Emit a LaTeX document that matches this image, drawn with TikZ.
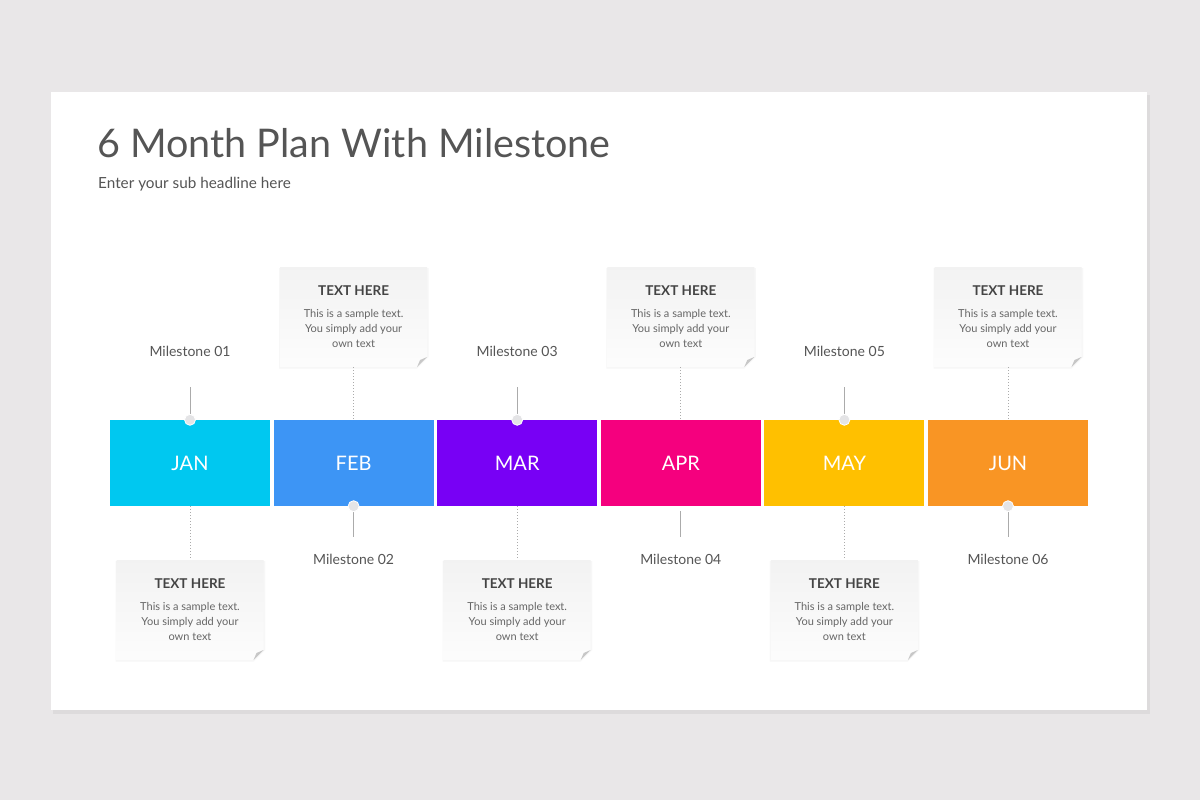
\documentclass[tikz,border=0pt]{standalone}
\usepackage{fontspec}
\setmainfont{Lato}
\usetikzlibrary{calc}
\definecolor{bg}{HTML}{E9E7E8}
\definecolor{ink}{HTML}{555555}
\definecolor{inkdark}{HTML}{444444}
\definecolor{inklight}{HTML}{666666}
\definecolor{cJan}{HTML}{00C8F0}
\definecolor{cFeb}{HTML}{3D95F5}
\definecolor{cMar}{HTML}{7800F5}
\definecolor{cApr}{HTML}{F5007E}
\definecolor{cMay}{HTML}{FFC000}
\definecolor{cJun}{HTML}{F99524}
\definecolor{dotc}{HTML}{E4E4E6}
\definecolor{linec}{HTML}{ABABAB}
\definecolor{shadowc}{HTML}{DDDBDC}
\begin{document}
\begin{tikzpicture}[x=1pt,y=-1pt,
  monthbox/.style={minimum width=160pt,minimum height=86pt,inner sep=0pt,text=white,font=\fontsize{20}{24}\selectfont},
  notebox/.style={minimum width=147pt,minimum height=100pt,inner sep=0pt},
  notetitle/.style={font=\fontsize{13.5}{16}\selectfont\bfseries,text=inkdark},
  notebody/.style={align=center,font=\fontsize{11}{15}\selectfont,text=inklight},
  mslabel/.style={font=\fontsize{14}{16}\selectfont,text=ink},
  msdot/.style={circle,fill=dotc,draw=white,line width=0.8pt,minimum size=11pt,inner sep=0pt},
  msline/.style={draw=linec,line width=1pt},
  dotline/.style={draw=linec,line width=1pt,dotted},
]
\useasboundingbox (0,0) rectangle (1200,800);
\fill[bg] (0,0) rectangle (1200,800);
% card shadow
\fill[shadowc] (53,95) rectangle (1150,714);
\fill[white] (51,92) rectangle (1147,710);
% title
\node[anchor=base west,inner sep=0pt,text=ink,font=\fontsize{39.5}{46}\selectfont] (title) at (97,157) {6 Month Plan With Milestone};
\node[anchor=base west,inner sep=0pt,text=ink,font=\fontsize{15.3}{18}\selectfont] (subtitle) at (98,188) {Enter your sub headline here};
% month boxes
\foreach \i/\m/\c in {0/JAN/cJan,1/FEB/cFeb,2/MAR/cMar,3/APR/cApr,4/MAY/cMay,5/JUN/cJun}{
  \node[monthbox,fill=\c] (m\i) at ({190+163.6*\i},463) {\m};
}
% notes: top over FEB, APR, JUN ; bottom under JAN, MAR, MAY
\foreach \i/\cy in {0/610,1/317,2/610,3/317,4/610,5/317}{
  \pgfmathsetmacro{\cx}{190+163.6*\i}
  \pgfmathsetmacro{\xl}{\cx-73.5}
  \pgfmathsetmacro{\xr}{\cx+73.5}
  \pgfmathsetmacro{\yt}{\cy-50}
  \pgfmathsetmacro{\yb}{\cy+50}
  \fill[black!3] (\xl-1,\yt+1) -- (\xr+1.5,\yt+1) -- (\xr+1.5,\yb-10) -- (\xr-10,\yb+1.5) -- (\xl-1,\yb+1.5) -- cycle;
  \shade[top color=black!5,bottom color=black!1] (\xl,\yt) -- (\xr,\yt) -- (\xr,\yb-10) -- (\xr-10,\yb) -- (\xl,\yb) -- cycle;
  \fill[black!22] (\xr,\yb-10) -- (\xr-10,\yb) -- (\xr-7,\yb-7) -- cycle;
  \node[notebox] (n\i) at (\cx,\cy) {};
  \node[notetitle] (nt\i) at (\cx,\cy-26) {TEXT HERE};
  \node[notebody] (nb\i) at (\cx,\cy+11) {This is a sample text.\\You simply add your\\own text};
}
% dotted connectors
\foreach \i in {1,3,5}{ \draw[dotline] (n\i.south) -- (m\i.north); }
\foreach \i in {0,2,4}{ \draw[dotline] (m\i.south) -- (n\i.north); }
% milestones top (01,03,05)
\foreach \i/\k in {0/01,2/03,4/05}{
  \coordinate (t\i) at ({190+163.6*\i},387);
  \node[mslabel] (ml\i) at ({190+163.6*\i},351) {Milestone \k};
  \draw[msline] (t\i) -- (m\i.north);
  \node[msdot] (d\i) at (m\i.north) {};
}
% milestones bottom (02,04,06)
\foreach \i/\k in {1/02,3/04,5/06}{
  \coordinate (b\i) at ({190+163.6*\i},537);
  \node[mslabel] (ml\i) at ({190+163.6*\i},559) {Milestone \k};
}
\draw[msline] (m1.south) -- (b1);
\node[msdot] (d1) at (m1.south) {};
\coordinate (s3) at ({190+163.6*3},511);
\draw[msline] (s3) -- (b3);
\draw[msline] (m5.south) -- (b5);
\node[msdot] (d5) at (m5.south) {};
\end{tikzpicture}
\end{document}
